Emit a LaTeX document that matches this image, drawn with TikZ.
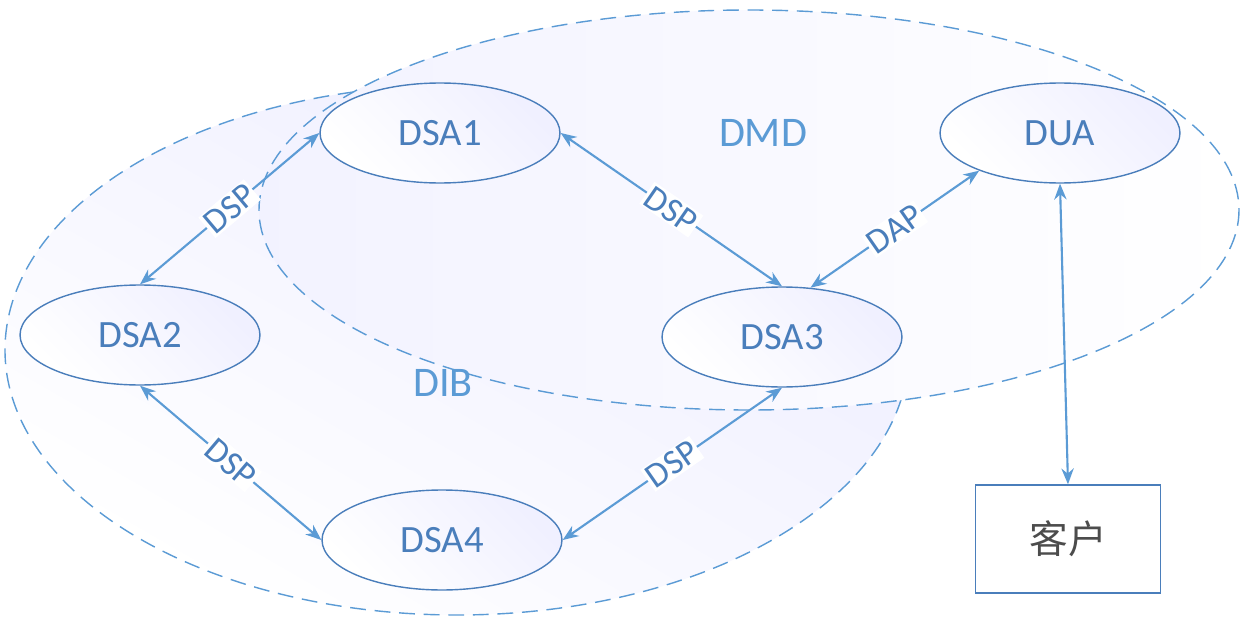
\documentclass[tikz,border=0pt]{standalone}
\usepackage{fontspec}
\setmainfont{Carlito}
\newfontfamily\cjk{Noto Sans CJK SC}
\usetikzlibrary{arrows.meta,positioning,shapes.geometric}
\definecolor{lineblue}{HTML}{5B9BD5}
\definecolor{textblue}{HTML}{4A7EBB}
\tikzset{
  dsa/.style={ellipse, draw=textblue, line width=0.8pt, minimum width=4.8cm, minimum height=2cm,
    left color=blue!6, right color=white, shading angle=-45, text=textblue, font=\fontsize{22}{24}\selectfont},
  region/.style={draw=lineblue, dashed, dash pattern=on 9pt off 5pt, line width=0.8pt},
  link/.style={{Stealth[length=9pt,width=7pt]}-{Stealth[length=9pt,width=7pt]}, draw=lineblue, line width=1.2pt},
  proto/.style={sloped, fill=white, inner sep=1pt, text=textblue, font=\fontsize{20}{22}\selectfont}
}
\begin{document}
\begin{tikzpicture}[x=0.02cm,y=-0.02cm]
  \useasboundingbox (0,0) rectangle (1242,622);

  % dashed domains
  \shade[region, top color=blue!7, bottom color=white, shading angle=-30] (457,350) ellipse [x radius=452, y radius=265];
  \shade[region, left color=blue!5, right color=white] (749,210) ellipse [x radius=490, y radius=200];

  \node[text=lineblue, font=\fontsize{24}{26}\selectfont] (dmd) at (763,133) {DMD};
  \node[text=lineblue, font=\fontsize{24}{26}\selectfont] (dib) at (443,383) {DIB};

  % agents
  \node[dsa] (dsa1) at (440,133) {DSA1};
  \node[dsa] (dua)  at (1060,133) {DUA};
  \node[dsa] (dsa2) at (140,335) {DSA2};
  \node[dsa] (dsa3) at (782,337) {DSA3};
  \node[dsa] (dsa4) at (442,540) {DSA4};
  \node[draw=textblue, line width=0.8pt, fill=white, minimum width=3.7cm, minimum height=2.16cm,
    text=black!70, font=\cjk\fontsize{22}{24}\selectfont] (user) at (1068,539) {客户};

  % protocols
  \draw[link] (dsa1.west) -- node[proto] {DSP} (dsa2.north);
  \draw[link] (dsa1.east) -- node[proto] {DSP} (dsa3.north);
  \draw[link] (dsa3.60) -- node[proto] {DAP} (dua.205);
  \draw[link] (dsa2.south) -- node[proto] {DSP} (dsa4.west);
  \draw[link] (dsa3.south) -- node[proto] {DSP} (dsa4.east);
  \draw[link] (dua.south) -- (user.north);
\end{tikzpicture}
\end{document}
